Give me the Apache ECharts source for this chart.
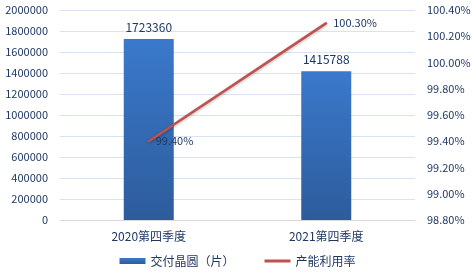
<!DOCTYPE html>
<html><head><meta charset="utf-8">
<script src="https://cdn.jsdelivr.net/npm/echarts@6/dist/echarts.min.js"></script>
<style>html,body{margin:0;padding:0;background:#fff}#c{width:475px;height:276px}</style>
</head><body><div id="c"></div>
<script>
const categories = ['2020第四季度', '2021第四季度'];
const wafers = [1723360, 1415788];
const utilization = [99.40, 100.30];
const barName = '交付晶圆（片）';
const lineName = '产能利用率';

const txt = '#1F3864';
const font = '"Noto Sans CJK SC", "Noto Sans", sans-serif';
const chart = echarts.init(document.getElementById('c'));
chart.setOption({
  animation: false,
  textStyle: {fontFamily: font},
  grid: {left: 60, right: 60, top: 10, bottom: 56},
  legend: {
    bottom: 4, left: 'center', itemGap: 30, itemWidth: 26, itemHeight: 6,
    textStyle: {color: txt, fontSize: 12, fontFamily: font},
    data: [{name: barName, icon: 'rect'},
           {name: lineName, icon: 'path://M0,0 L26,0 L26,3 L0,3 Z', itemStyle: {color: '#C0504D', opacity: 1}}]
  },
  xAxis: {
    type: 'category', data: categories,
    axisLine: {lineStyle: {color: '#D9D9D9'}},
    axisTick: {show: false},
    axisLabel: {color: txt, fontSize: 12, margin: 10}
  },
  yAxis: [{
    type: 'value', min: 0, max: 2000000, interval: 200000,
    axisLabel: {color: txt, fontSize: 11, margin: 12, formatter: v => String(v)},
    splitLine: {lineStyle: {color: '#D6E3F3'}},
    axisLine: {show: false}, axisTick: {show: false}
  }, {
    type: 'value', min: 98.8, max: 100.4, interval: 0.2,
    axisLabel: {color: txt, fontSize: 11, margin: 12, formatter: v => v.toFixed(2) + '%'},
    splitLine: {show: false}, axisLine: {show: false}, axisTick: {show: false}
  }],
  series: [{
    name: barName, type: 'bar', data: wafers, barWidth: 50,
    itemStyle: {color: new echarts.graphic.LinearGradient(0, 0, 0, 1, [
      {offset: 0, color: '#3A79CB'}, {offset: 1, color: '#2D5C9C'}])},
    label: {show: true, position: 'top', color: txt, fontSize: 12, distance: 6}
  }, {
    name: lineName, type: 'line', yAxisIndex: 1, data: utilization,
    symbol: 'circle', symbolSize: 2, showSymbol: true, color: '#C0504D',
    itemStyle: {color: '#C0504D'},
    lineStyle: {color: '#C0504D', width: 2.5, shadowColor: 'rgba(0,0,0,0.3)', shadowBlur: 3, shadowOffsetY: 1},
    label: {show: true, position: 'right', color: txt, fontSize: 11, distance: 6,
      formatter: p => p.value.toFixed(2) + '%'}
  }]
});
</script></body></html>
